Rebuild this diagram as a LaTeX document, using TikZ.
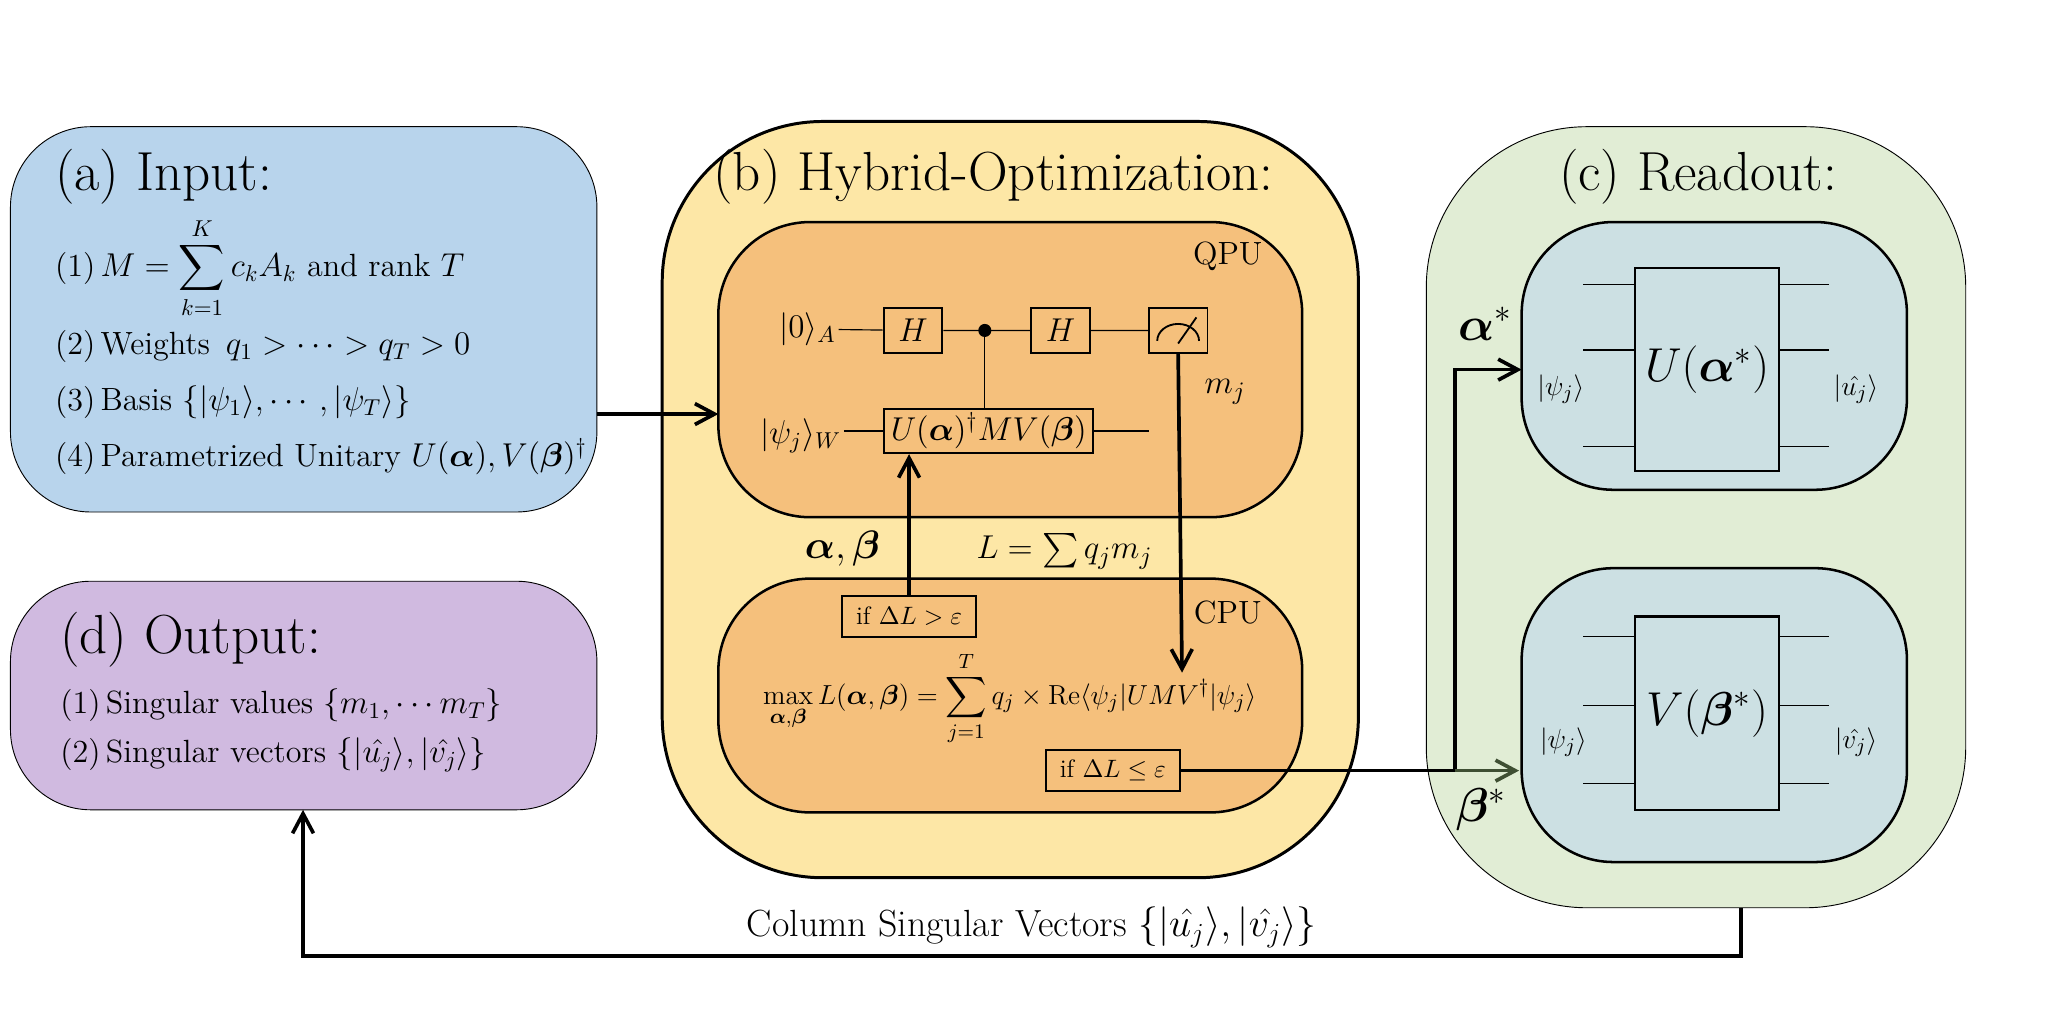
\documentclass[tikz,border=0pt]{standalone}
\usepackage{amsmath,amssymb,bm}
\usetikzlibrary{arrows.meta}
\definecolor{cblue}{HTML}{B8D4EC}
\definecolor{cpurple}{HTML}{D0BAE0}
\definecolor{cyellow}{HTML}{FDE7A6}
\definecolor{corange}{HTML}{F5C07C}
\definecolor{cgreen}{HTML}{E1EDD5}
\definecolor{cteal}{HTML}{CCE0E3}
\definecolor{darkolive}{HTML}{3F4F33}
\tikzset{
  panel/.style={draw, rounded corners=#1},
  gate/.style={draw, fill=corange, minimum width=0.9cm, minimum height=0.68cm, inner sep=0pt, line width=0.8pt, font=\fontsize{14}{16}\selectfont},
  wire/.style={line width=0.5pt},
  flow/.style={line width=1.6pt, -{Straight Barb[length=3mm,width=3.2mm]}},
  title/.style={font=\fontsize{24}{28}\selectfont, anchor=west},
  item/.style={font=\fontsize{14}{16}\selectfont, anchor=west},
}
\begin{document}
\begin{tikzpicture}[x=0.02cm, y=-0.02cm]
\useasboundingbox (0,0) rectangle (1568,784);
% (a) input
\draw[panel=35, fill=cblue] (8,97) rectangle (457,392);
\node[title] at (36,135) {(a) Input:};
\node[item] (a1) at (36,205) {(1)\,$M=\displaystyle\sum_{k=1}^{K} c_kA_k$ and rank $T$};
\node[item] at (36,265) {(2)\,Weights\, $q_1>\cdots>q_T>0$};
\node[item] at (36,308) {(3)\,Basis $\{|\psi_1\rangle,\cdots,|\psi_T\rangle\}$};
\node[item] at (36,350) {(4)\,Parametrized Unitary $U(\bm{\alpha}),V(\bm{\beta})^\dagger$};
\coordinate (aout) at (457,317);
% (d) output
\draw[panel=35, fill=cpurple] (8,445) rectangle (457,620);
\node[title] at (40,490) {(d) Output:};
\node[item] at (40,540) {(1)\,Singular values $\{m_1,\cdots m_T\}$};
\node[item] at (40,578) {(2)\,Singular vectors $\{|\hat{u_j}\rangle,|\hat{v_j}\rangle\}$};
\coordinate (din) at (232,620);
% (b) hybrid
\draw[panel=70, fill=cyellow, line width=1.3pt] (507,93) rectangle (1040,672);
\node[title] at (540,135) {(b) Hybrid-Optimization:};
\draw[panel=40, fill=corange, line width=1.1pt] (550,170) rectangle (997,396);
\node[font=\fontsize{14}{16}\selectfont] at (940,196) {QPU};
\draw[panel=40, fill=corange, line width=1.1pt] (550,443) rectangle (997,622);
\node[font=\fontsize{14}{16}\selectfont] at (940,469) {CPU};
\coordinate (qin) at (550,317);
% circuit
\node[anchor=east, font=\fontsize{14}{16}\selectfont, inner sep=1pt] (k0) at (642,252) {$|0\rangle_A$};
\node[anchor=east, font=\fontsize{14}{16}\selectfont, inner sep=1pt] (kp) at (646,334) {$|\psi_j\rangle_W$};
\node[gate] (h1) at (699,253) {$H$};
\node[gate] (h2) at (812,253) {$H$};
\node[gate] (ms) at (902,253) {};
\draw[wire, line width=0.8pt] ([shift={(-16,8)}]ms.center) arc (180:360:16 and 13);
\draw[wire, line width=0.8pt] ([shift={(0,10)}]ms.center) -- ++(14,-20);
\node[gate, minimum width=3.2cm] (uu) at (757,330) {$U(\bm{\alpha})^\dagger MV(\bm{\beta})$};
\coordinate (dot) at (754,253);
\coordinate (wend) at (880,330);
\fill (dot) circle (5);
\draw[wire] (k0) -- (h1) -- (h2) -- (ms);
\draw[wire] (dot) -- (dot |- uu.north);
\draw[wire] (kp.east |- uu) -- (uu) -- (wend);
\node[font=\fontsize{15}{17}\selectfont] at (938,300) {$m_j$};
\node[font=\fontsize{19}{21}\selectfont] at (645,420) {$\bm{\alpha},\bm{\beta}$};
\node[font=\fontsize{15}{17}\selectfont] at (815,422) {$L=\sum q_jm_j$};
% CPU contents
\node[draw, fill=corange, line width=0.8pt, font=\fontsize{11}{13}\selectfont, minimum width=2.05cm, minimum height=0.62cm] (c1) at (696,472) {if $\Delta L>\varepsilon$};
\node[font=\fontsize{12.5}{15}\selectfont] (eq) at (773,535) {$\displaystyle\max_{\bm{\alpha},\bm{\beta}}L(\bm{\alpha},\bm{\beta})=\sum_{j=1}^{T}q_j\times\mathrm{Re}\langle\psi_j|UMV^\dagger|\psi_j\rangle$};
\node[draw, fill=corange, line width=0.8pt, font=\fontsize{11}{13}\selectfont, minimum width=2.05cm, minimum height=0.62cm] (c2) at (852,590) {if $\Delta L\le\varepsilon$};
\coordinate (mtip) at (905,515);
% (c) readout
\draw[panel=70, fill=cgreen] (1092,97) rectangle (1505,695);
\node[font=\fontsize{24}{28}\selectfont] at (1300,135) {(c) Readout:};
\draw[panel=40, fill=cteal, line width=1.1pt] (1165,170) rectangle (1460,375);
\draw[panel=40, fill=cteal, line width=1.1pt] (1165,435) rectangle (1460,660);
\node[draw, fill=cteal, line width=0.9pt, minimum width=2.2cm, minimum height=3.1cm, font=\fontsize{22}{24}\selectfont] (ug) at (1307,283) {$U(\bm{\alpha}^{*})$};
\node[draw, fill=cteal, line width=0.9pt, minimum width=2.2cm, minimum height=2.96cm, font=\fontsize{22}{24}\selectfont] (vg) at (1307,546) {$V(\bm{\beta}^{*})$};
\foreach \yy in {218,268,342} {
  \draw[wire] (1212,\yy) -- (ug.west |- 0,\yy);
  \draw[wire] (ug.east |- 0,\yy) -- (1400,\yy);
}
\foreach \yy in {487,540,600} {
  \draw[wire] (1212,\yy) -- (vg.west |- 0,\yy);
  \draw[wire] (vg.east |- 0,\yy) -- (1400,\yy);
}
\node[font=\fontsize{13}{15}\selectfont] at (1195,298) {$|\psi_j\rangle$};
\node[font=\fontsize{13}{15}\selectfont] at (1421,298) {$|\hat{u_j}\rangle$};
\node[font=\fontsize{13}{15}\selectfont] at (1197,568) {$|\psi_j\rangle$};
\node[font=\fontsize{13}{15}\selectfont] at (1421,568) {$|\hat{v_j}\rangle$};
\coordinate (uin) at (1165,283);
\coordinate (vin) at (1163,590);
\coordinate (jn) at (1114,590);
\coordinate (cbot) at (1333,695);
\node[font=\fontsize{21}{23}\selectfont] at (1137,248) {$\bm{\alpha}^{*}$};
\node[font=\fontsize{21}{23}\selectfont] at (1134,620) {$\bm{\beta}^{*}$};
% connectors
\draw[flow] (aout) -- (qin);
\draw[flow] (c1.north) -- (c1.north |- uu.south);
\draw[flow] (ms.south) -- (mtip);
\draw[line width=1.6pt] (c2.east) -- (jn);
\draw[flow] (jn) |- (uin);
\draw[flow, darkolive] (jn) -- (vin);
\draw[flow] (cbot) -- (1333,732) -| (din);
\node[font=\fontsize{16.5}{19}\selectfont] at (790,710) {Column Singular Vectors $\{|\hat{u_j}\rangle,|\hat{v_j}\rangle\}$};
\end{tikzpicture}
\end{document}
